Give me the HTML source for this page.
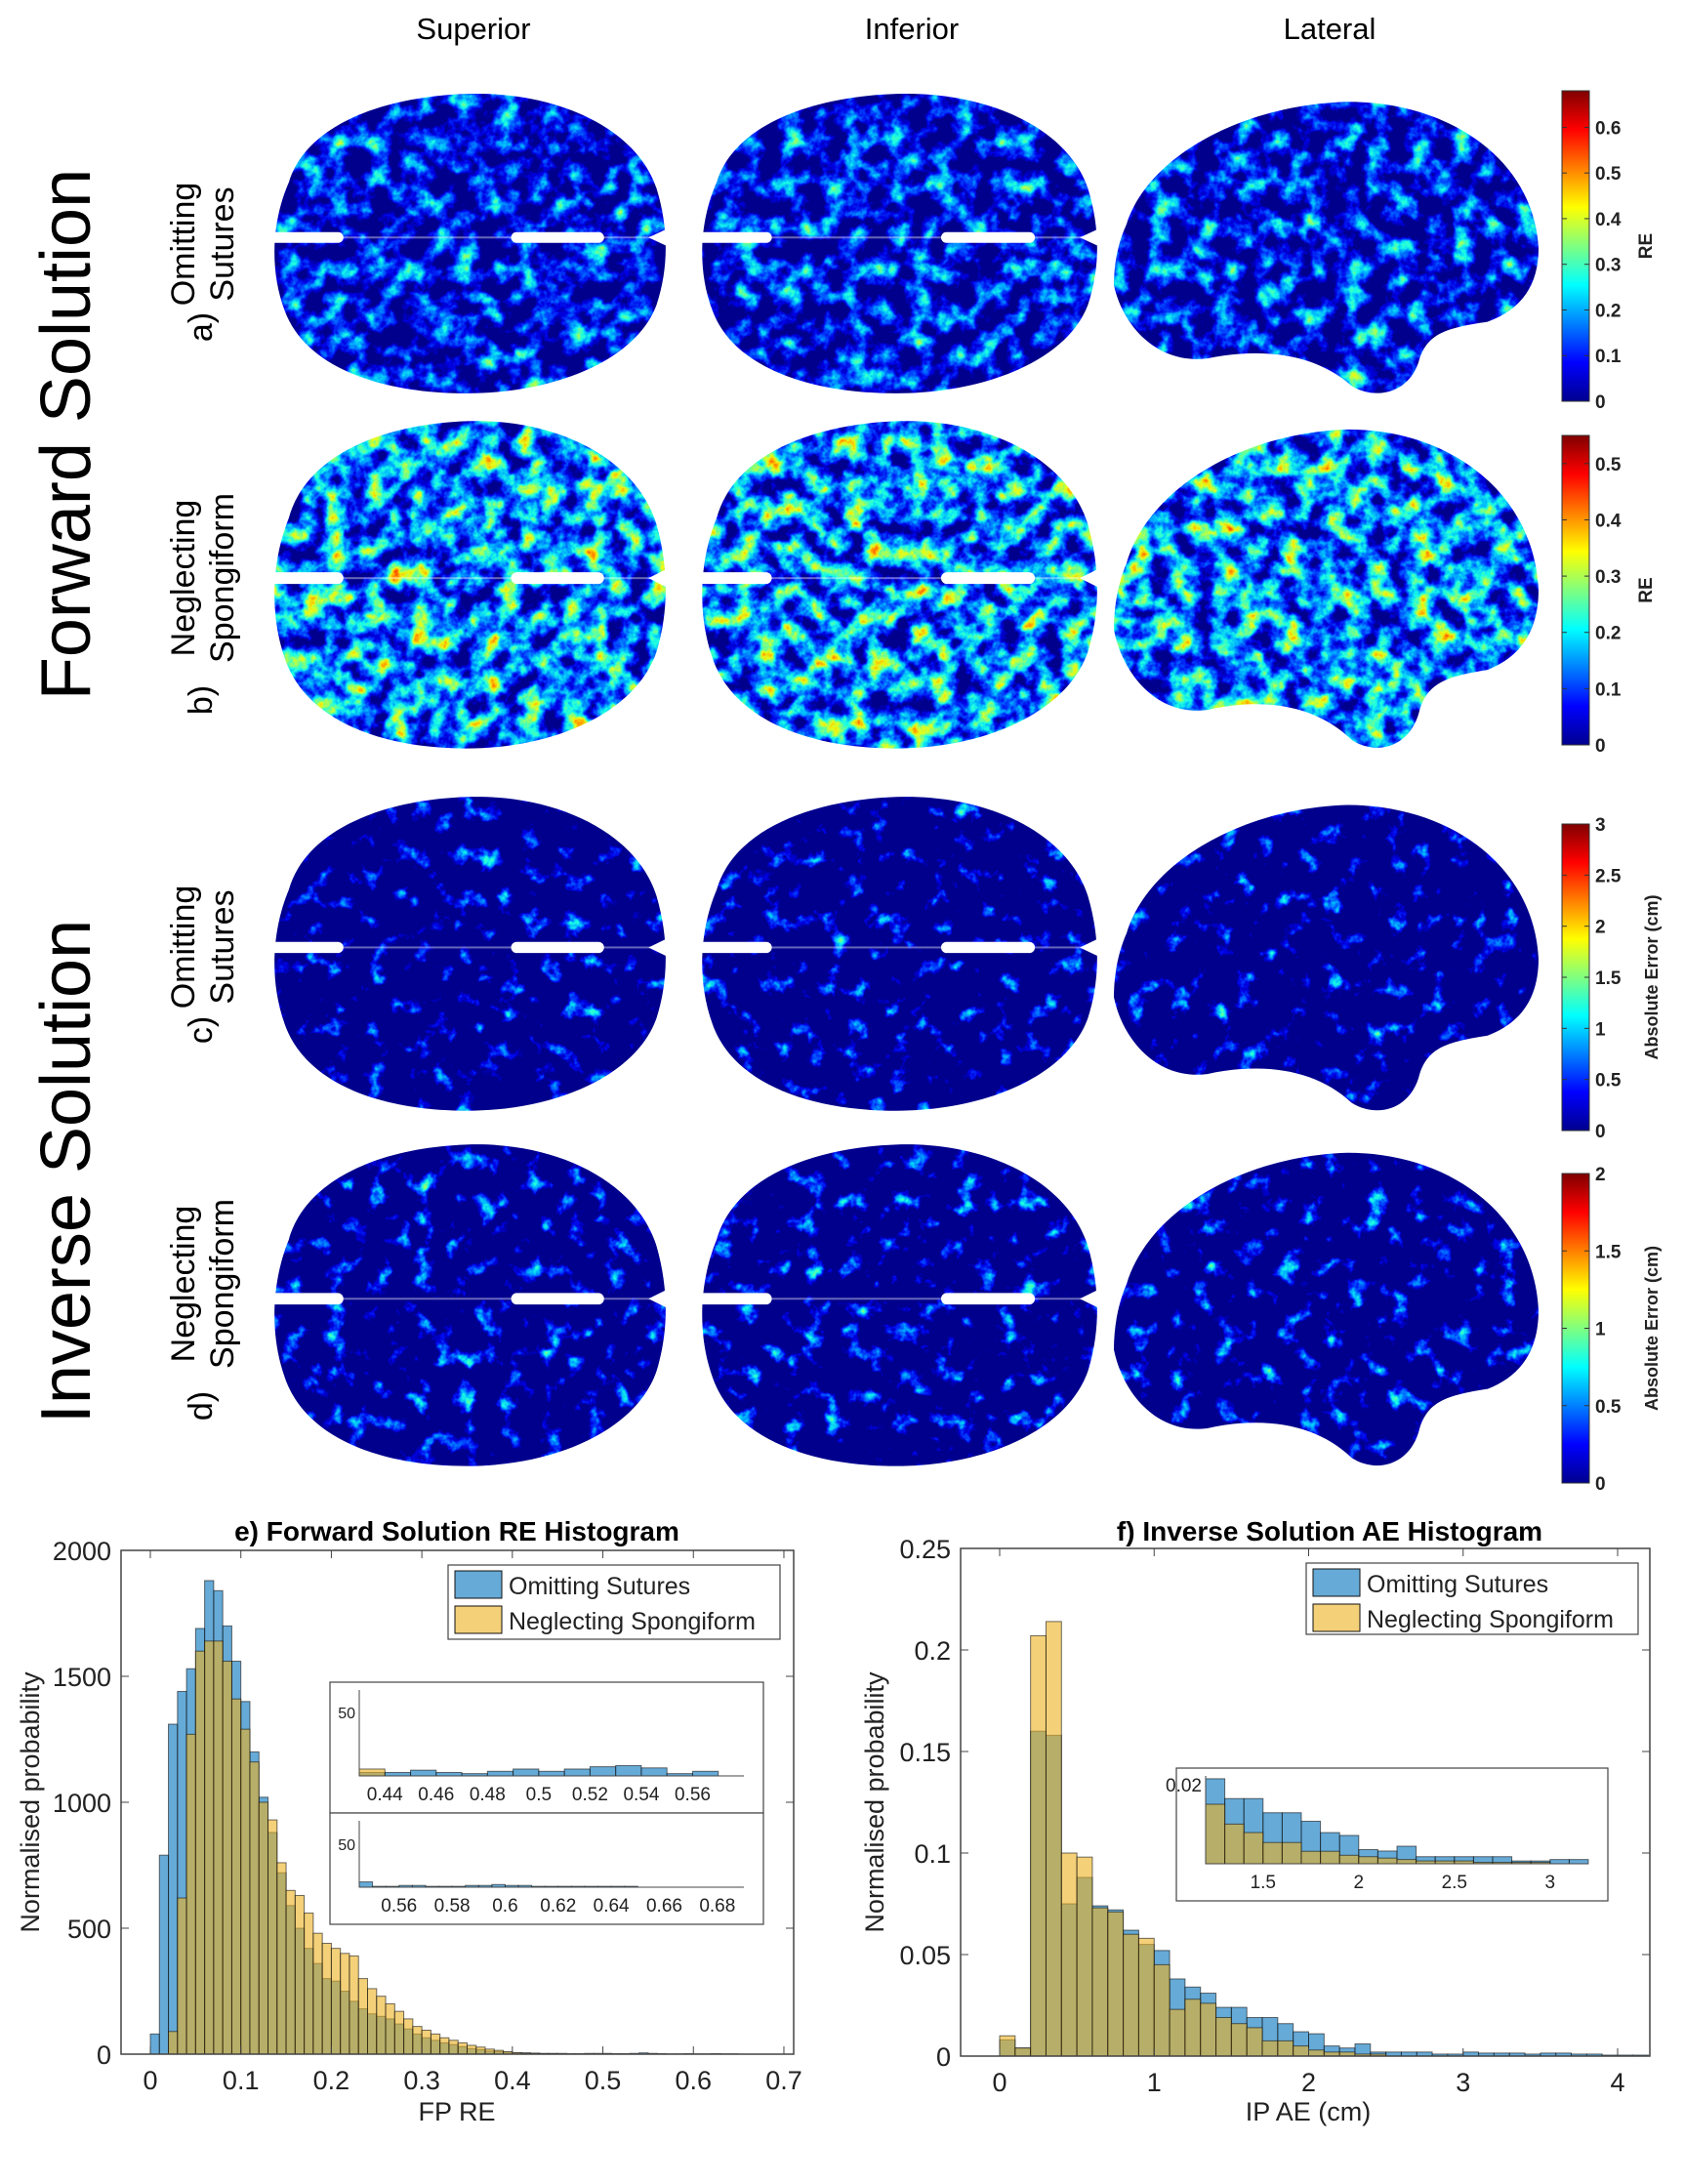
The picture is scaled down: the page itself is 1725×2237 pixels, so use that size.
<!DOCTYPE html>
<html><head><meta charset="utf-8">
<style>
html,body{margin:0;padding:0;background:#fff;}
svg{display:block;font-family:"Liberation Sans",Arial,sans-serif;}
</style></head>
<body>
<svg id="s" xmlns="http://www.w3.org/2000/svg" width="1725" height="2237" viewBox="0 0 1725 2237">
<defs>
<linearGradient id="jet" x1="0" y1="1" x2="0" y2="0">
<stop offset="0" stop-color="#00008f"/><stop offset="0.125" stop-color="#0000ff"/>
<stop offset="0.375" stop-color="#00ffff"/><stop offset="0.625" stop-color="#ffff00"/>
<stop offset="0.875" stop-color="#ff0000"/><stop offset="1" stop-color="#800000"/>
</linearGradient>
<path id="topv" d="M0.06,0.3 C0.1,0.12 0.28,0.02 0.5,0.01 C0.72,0.0 0.92,0.12 0.97,0.32 C1.0,0.45 1.0,0.58 0.97,0.7 C0.92,0.88 0.72,0.99 0.5,0.99 C0.28,0.99 0.1,0.9 0.05,0.72 C0.01,0.58 0.02,0.42 0.06,0.3Z"/>
<path id="latv" d="M0.03,0.42 C0.08,0.2 0.3,0.03 0.55,0.02 C0.8,0.02 0.99,0.22 1.0,0.5 C1.0,0.62 0.96,0.7 0.88,0.74 C0.78,0.76 0.74,0.78 0.72,0.86 C0.7,0.97 0.62,1.0 0.56,0.95 C0.48,0.85 0.36,0.82 0.22,0.86 C0.1,0.88 0.02,0.75 0.0,0.62 C0.0,0.55 0.01,0.48 0.03,0.42Z"/>
</defs>
<g id="brains"></g>
<g id="hist"></g>
<g font-size="31" text-anchor="middle" fill="#000">
<text x="485" y="40">Superior</text>
<text x="934" y="40">Inferior</text>
<text x="1362" y="40">Lateral</text>
</g>
<g font-size="72" text-anchor="middle" fill="#000">
<text transform="translate(92,445) rotate(-90)">Forward Solution</text>
<text transform="translate(92,1200) rotate(-90)">Inverse Solution</text>
</g>
<g font-size="34" fill="#000" text-anchor="middle">
<g transform="translate(207,275) rotate(-90)"><text x="-60" y="10">a)</text><text x="25" y="-8">Omitting</text><text x="25" y="32">Sutures</text></g>
<g transform="translate(207,617) rotate(-90)"><text x="-100" y="10">b)</text><text x="25" y="-8">Neglecting</text><text x="25" y="32">Spongiform</text></g>
<g transform="translate(207,995) rotate(-90)"><text x="-60" y="10">c)</text><text x="25" y="-8">Omitting</text><text x="25" y="32">Sutures</text></g>
<g transform="translate(207,1340) rotate(-90)"><text x="-100" y="10">d)</text><text x="25" y="-8">Neglecting</text><text x="25" y="32">Spongiform</text></g>
</g>
<g id="cbars"></g>
</svg>
<script>
var NS="http://www.w3.org/2000/svg";
function el(t,a,p){var e=document.createElementNS(NS,t);for(var k in a)e.setAttribute(k,a[k]);if(p)p.appendChild(e);return e;}
var defs=document.querySelector('defs');
var B=document.getElementById('brains');
var jr="0 0 0 0 0.1 0.5 0.9 1 1 0.9 0.5",jg="0 0 0.3 0.7 1 1 1 0.7 0.3 0 0",jb="0.55 0.9 1 1 0.9 0.5 0.1 0 0 0 0";
var fid=0;
function mkFilter(a,b,freq,seed,x,y,w,h){
 var id='f'+(fid++);
 var f=el('filter',{id:id,filterUnits:'userSpaceOnUse',x:x,y:y,width:w,height:h,'color-interpolation-filters':'sRGB'},defs);
 el('feTurbulence',{type:'fractalNoise',baseFrequency:freq,numOctaves:4,seed:seed},f);
 var m=[a,0,0,0,b, a,0,0,0,b, a,0,0,0,b, 0,0,0,0,1].join(' ');
 el('feColorMatrix',{type:'matrix',values:m},f);
 var ct=el('feComponentTransfer',{},f);
 el('feFuncR',{type:'table',tableValues:jr},ct);
 el('feFuncG',{type:'table',tableValues:jg},ct);
 el('feFuncB',{type:'table',tableValues:jb},ct);
 el('feFuncA',{type:'linear',slope:0,intercept:1},ct);
 return id;
}
var cid=0;
function brain(kind,x,y,w,h,a,b,seed){
 var id='c'+(cid++);
 var cp=el('clipPath',{id:id},defs);
 el('use',{href:'#'+(kind=='lat'?'latv':'topv'),transform:'translate('+x+','+y+') scale('+w+','+h+')'},cp);
 var f=mkFilter(a,b,0.045,seed,x,y,w,h);
 el('rect',{x:x,y:y,width:w,height:h,filter:'url(#'+f+')','clip-path':'url(#'+id+')'},B);
 if(kind!='lat'){
  var my=y+h*0.48, sh=Math.max(10,h*0.035);
  el('rect',{x:x-2,y:my-sh/2,width:w*0.2,height:sh,rx:sh/2,fill:'#fff'},B);
  el('rect',{x:x+w*0.61,y:my-sh/2,width:w*0.23,height:sh,rx:sh/2,fill:'#fff'},B);
  el('rect',{x:x,y:my-1,width:w,height:2,fill:'#fff',opacity:0.4},B);
  el('path',{d:'M'+(x+w*0.95)+','+my+' L'+(x+w+3)+','+(my-sh)+' L'+(x+w+3)+','+(my+sh)+'Z',fill:'#fff'},B);
 }
}
var rows=[[93,313,1.2,-0.5],[428,342,1.35,-0.42],[813,328,1.5,-0.88],[1169,336,1.5,-0.85]];
var s=1;
rows.forEach(function(r){
 brain('sup',271,r[0],414,r[1],r[2],r[3],s++);
 brain('inf',709,r[0],418,r[1],r[2],r[3],s++);
 brain('lat',1141,r[0]+5,435,r[1],r[2],r[3],s++);
});
var C=document.getElementById('cbars');
function cbar(top,bot,max,ticks,label,lx){
 el('rect',{x:1600,y:top,width:28,height:bot-top,fill:'url(#jet)',stroke:'#333','stroke-width':1},C);
 ticks.forEach(function(t){var yy=bot-(t/max)*(bot-top);
  el('line',{x1:1600,x2:1605,y1:yy,y2:yy,stroke:'#333'},C);
  el('line',{x1:1623,x2:1628,y1:yy,y2:yy,stroke:'#333'},C);
  var tx=el('text',{x:1634,y:yy+7,'font-size':19,'font-weight':'bold',fill:'#222'},C);tx.textContent=t;});
 var l=el('text',{transform:'translate('+lx+','+((top+bot)/2)+') rotate(-90)','text-anchor':'middle','font-size':label=='RE'?19:18,'font-weight':'bold',fill:'#222'},C);l.textContent=label;
}
cbar(93,411,0.68,[0,0.1,0.2,0.3,0.4,0.5,0.6],'RE',1692);
cbar(446,763,0.55,[0,0.1,0.2,0.3,0.4,0.5],'RE',1692);
cbar(844,1158,3,[0,0.5,1,1.5,2,2.5,3],'Absolute Error (cm)',1698);
cbar(1202,1519,2,[0,0.5,1,1.5,2],'Absolute Error (cm)',1698);
var H=document.getElementById('hist');
var BL='#0072BD',YL='#EDB120';
function txt(x,y,s,sz,anc,extra){var t=el('text',Object.assign({x:x,y:y,'font-size':sz,'text-anchor':anc||'middle',fill:'#222'},extra||{}),H);t.textContent=s;return t;}
function bars(data,x0,bw,X,Y,col){data.forEach(function(v,i){if(v<=0)return;var xa=X(x0+i*bw),xb=X(x0+(i+1)*bw),ya=Y(v),yb=Y(0);
 el('rect',{x:xa,y:ya,width:xb-xa,height:yb-ya,fill:col,'fill-opacity':0.6,stroke:'#111','stroke-opacity':0.6,'stroke-width':1},H);});}
function axes(L,R,T,Bt,xt,yt,X,Y){
 el('rect',{x:L,y:T,width:R-L,height:Bt-T,fill:'none',stroke:'#444','stroke-width':1.5},H);
 xt.forEach(function(v){var xx=X(v);el('line',{x1:xx,x2:xx,y1:Bt,y2:Bt-8,stroke:'#444'},H);el('line',{x1:xx,x2:xx,y1:T,y2:T+8,stroke:'#444'},H);txt(xx,Bt+36,v,27);});
 yt.forEach(function(v){var yy=Y(v);el('line',{x1:L,x2:L+8,y1:yy,y2:yy,stroke:'#444'},H);el('line',{x1:R,x2:R-8,y1:yy,y2:yy,stroke:'#444'},H);txt(L-10,yy+10,v,27,'end');});
}
var XL=function(v){return 154+v*927.1},YLf=function(c){return 2104-c*0.258};
var blue=[80,790,1310,1440,1530,1690,1880,1840,1700,1560,1400,1200,1020,880,720,590,500,420,360,300,290,250,210,180,160,150,140,120,100,80,65,55,45,38,30,22,18,12,10,8,5,5,4,3,3,3,2,2,3,3,3,2,2,3,5,3,2,1,1,2,1,1,2,1,1];
var yel=[0,0,90,620,1270,1600,1640,1640,1560,1410,1290,1160,1000,930,760,650,630,560,480,440,420,400,390,300,260,230,200,170,140,110,95,80,65,55,45,35,28,20,15,10,6,4,3,2,2];
bars(blue,0,0.01,XL,YLf,BL);bars(yel,0,0.01,XL,YLf,YL);
axes(124,813,1588,2104,[0,0.1,0.2,0.3,0.4,0.5,0.6,0.7],[0,500,1000,1500,2000],XL,YLf);
txt(468,1578,'e) Forward Solution RE Histogram',28,'middle',{'font-weight':'bold',fill:'#000'});
txt(468,2172,'FP RE',27);
txt(0,0,'Normalised probability',27,'middle',{transform:'translate(40,1846) rotate(-90)'});
var XR=function(v){return 1024+v*158.25},YR=function(c){return 2106-c*2080};
var b2=[0.008,0.004,0.16,0.158,0.075,0.088,0.074,0.072,0.062,0.055,0.052,0.038,0.034,0.031,0.024,0.024,0.019,0.019,0.016,0.012,0.011,0.005,0.004,0.006,0.002,0.002,0.002,0.002,0.001,0.001,0.002,0.0015,0.0015,0.0015,0.001,0.0015,0.0015,0.001,0.001,0.0005,0.0005,0.0005];
var y2=[0.01,0.004,0.207,0.214,0.1,0.098,0.073,0.071,0.06,0.058,0.045,0.023,0.028,0.026,0.019,0.016,0.014,0.0075,0.0075,0.005,0.003,0.002,0.002,0.001,0.001];
bars(b2,0,0.1,XR,YR,BL);bars(y2,0,0.1,XR,YR,YL);
axes(984,1690,1586,2106,[0,1,2,3,4],[0,0.05,0.1,0.15,0.2,0.25],XR,YR);
txt(1362,1578,'f) Inverse Solution AE Histogram',28,'middle',{'font-weight':'bold',fill:'#000'});
txt(1340,2172,'IP AE (cm)',27);
txt(0,0,'Normalised probability',27,'middle',{transform:'translate(905,1846) rotate(-90)'});
function legend(x,y,w,h){el('rect',{x:x,y:y,width:w,height:h,fill:'#fff',stroke:'#444','stroke-width':1.2},H);
 el('rect',{x:x+7,y:y+6,width:48,height:28,fill:BL,'fill-opacity':0.6,stroke:'#111'},H);
 el('rect',{x:x+7,y:y+42,width:48,height:28,fill:YL,'fill-opacity':0.6,stroke:'#111'},H);
 txt(x+62,y+30,'Omitting Sutures',25,'start');txt(x+62,y+66,'Neglecting Spongiform',25,'start');}
legend(459,1603,340,76);legend(1338,1601,340,73);
function inset(L,R,T,Bt,x0,x1,ymax,xt,data,tickfmt){
 el('rect',{x:L,y:T,width:R-L,height:Bt-T,fill:'#fff',stroke:'#444','stroke-width':1.2},H);
 var iL=L+30,iR=R-20,iT=T+8,iB=Bt-38;
 var X=function(v){return iL+(v-x0)/(x1-x0)*(iR-iL)},Y=function(c){return iB-c/ymax*(iB-iT)};
 data.forEach(function(d){bars(d[0],d[1],d[2],X,Y,d[3]);});
 el('line',{x1:iL,x2:iL,y1:iT,y2:iB,stroke:'#444'},H);el('line',{x1:iL,x2:iR,y1:iB,y2:iB,stroke:'#444'},H);
 xt.forEach(function(v){txt(X(v),iB+25,tickfmt(v),19);});
 return {X:X,Y:Y,iL:iL};
}
var id=function(v){return v};
var i1=inset(338,782,1723,1857,0.43,0.58,75,[0.44,0.46,0.48,0.5,0.52,0.54,0.56],[[[3,3,5,3,2,4,6,4,6,8,9,7,2,4],0.43,0.01,BL],[[6],0.43,0.01,YL]],id);
txt(i1.iL-4,1760,'50',16,'end');
var i2=inset(338,782,1857,1971,0.545,0.69,75,[0.56,0.58,0.6,0.62,0.64,0.66,0.68],[[[6,1,1,2,2,1,1,1,2,2,3,2,2,1,1,1,1,1,1,1,1],0.545,0.005,BL]],id);
txt(i2.iL-4,1895,'50',16,'end');
var i3=inset(1205,1647,1811,1947,1.2,3.2,0.031,[1.5,2,2.5,3],[[[0.030,0.023,0.023,0.018,0.018,0.015,0.011,0.010,0.005,0.0045,0.0062,0.0025,0.0025,0.0025,0.0025,0.0025,0.001,0.001,0.0015,0.0015],1.2,0.1,BL],[[0.021,0.014,0.011,0.0075,0.0075,0.0044,0.0044,0.003,0.0025,0.002,0.0015,0.001,0.001,0.001,0.0005,0.0005,0.0005,0.0005],1.2,0.1,YL]],id);
txt(i3.iL-4,1835,'0.02',19,'end');
</script>
</body></html>
